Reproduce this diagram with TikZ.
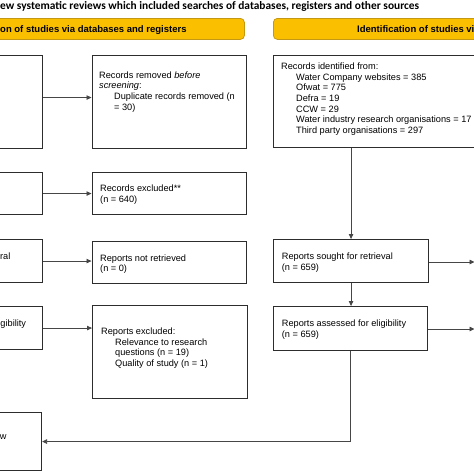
\documentclass[tikz,border=0pt]{standalone}
\usepackage{fontspec}
\setmainfont{Liberation Sans}
\newfontfamily\calib{Carlito}
\usetikzlibrary{arrows.meta}
\definecolor{hdr}{RGB}{250,192,0}
\definecolor{hdrline}{RGB}{196,152,20}
\definecolor{boxline}{RGB}{45,45,45}
\definecolor{arrline}{RGB}{70,70,70}
\begin{document}
\begin{tikzpicture}[x=1pt,y=-1pt,
  box/.style={draw=boxline,line width=1.1pt,inner sep=0pt,anchor=north west},
  txt/.style={inner sep=0pt,anchor=north west,font=\fontsize{9.2}{10.7}\selectfont,align=left},
  frag/.style={inner sep=0pt,anchor=base east,font=\fontsize{9.2}{10.7}\selectfont},
  hdrbox/.style={draw=hdrline,fill=hdr,line width=0.8pt,rounded corners=4pt,inner sep=0pt,anchor=north west},
  hdrtxt/.style={inner sep=0pt,anchor=base west,font=\fontsize{9.5}{11}\selectfont\bfseries},
  arr/.style={draw=arrline,line width=0.8pt,-{Triangle[length=5pt,width=4.5pt]}},
  ln/.style={draw=arrline,line width=0.8pt}]
\useasboundingbox (0,0) rectangle (474,474);
\clip (0,0) rectangle (474,474);
\fill[white] (0,0) rectangle (474,474);

% title
\node[inner sep=0pt,anchor=base west,font=\fontsize{11.4}{13}\selectfont\calib\bfseries] (T) at (0,9)
  {ew systematic reviews which included searches of databases, registers and other sources};

% headers
\node[hdrbox,minimum width=374,minimum height=21] (H1) at (-130,18) {};
\node[hdrtxt] (H1t) at (0,32) {on of studies via databases and registers};
\node[hdrbox,minimum width=330,minimum height=21] (H2) at (273,18) {};
\node[hdrtxt] (H2t) at (357,32) {Identification of studies vi};

% left column (cut)
\node[box,minimum width=102,minimum height=93] (L1) at (-60,55) {};
\node[box,minimum width=102,minimum height=42] (L2) at (-60,172) {};
\node[box,minimum width=102,minimum height=43] (L3) at (-60,239) {};
\node[box,minimum width=102,minimum height=43] (L4) at (-60,306) {};
\node[box,minimum width=101,minimum height=58] (L5) at (-60,412) {};
\node[frag] (L3t) at (10.5,259.3) {ral};
\node[frag,anchor=base west] (L4t) at (0.3,326.6) {gibility};
\node[frag] (L5t) at (6.8,439) {w};

% middle column
\node[box,minimum width=154.5,minimum height=93] (M1) at (91.5,55) {};
\node[txt] (M1t) at (99,71.4) {Records removed \textit{before}\\\textit{screening}:\\\hspace*{15pt}Duplicate records removed (n\\\hspace*{15pt}= 30)};
\node[box,minimum width=154.5,minimum height=42] (M2) at (91.5,172) {};
\node[txt] (M2t) at (100,184.9) {Records excluded**\\(n = 640)};
\node[box,minimum width=154.5,minimum height=42] (M3) at (91.5,241) {};
\node[txt] (M3t) at (100,254.3) {Reports not retrieved\\(n = 0)};
\node[box,minimum width=155,minimum height=93] (M4) at (92,305) {};
\node[txt] (M4t) at (101,327.6) {Reports excluded:\\\hspace*{14pt}Relevance to research\\\hspace*{14pt}questions (n = 19)\\\hspace*{14pt}Quality of study (n = 1)};

% right column
\node[box,minimum width=330,minimum height=92] (R1) at (273,55) {};
\node[txt] (R1t) at (281,62.6) {Records identified from:\\\hspace*{15pt}Water Company websites = 385\\\hspace*{15pt}Ofwat = 775\\\hspace*{15pt}Defra = 19\\\hspace*{15pt}CCW = 29\\\hspace*{15pt}Water industry research organisations = 17\\\hspace*{15pt}Third party organisations = 297};
\node[box,minimum width=155,minimum height=43] (R2) at (273,239) {};
\node[txt] (R2t) at (281.7,252.6) {Reports sought for retrieval\\(n = 659)};
\node[box,minimum width=154,minimum height=44] (R3) at (273,306) {};
\node[txt] (R3t) at (281.7,319.9) {Reports assessed for eligibility\\(n = 659)};

\coordinate (E1) at (474.5,262);
\coordinate (E2) at (474.5,329);

% connectors
\draw[arr] ([yshift=4.5pt]L1.east) -- ([yshift=4.5pt]M1.west);
\draw[arr] (L2.east) -- (L2.east -| M2.west);
\draw[arr] (L3.east) -- (L3.east -| M3.west);
\draw[arr] (L4.east) -- (L4.east -| M4.west);
\draw[arr] (R1.south -| R2.north) -- (R2.north);
\draw[arr] (R2.east |- E1) -- (E1);
\draw[arr] (R2.south) -- (R2.south |- R3.north);
\draw[arr] (R3.east |- E2) -- (E2);
\draw[arr] (R3.south) |- (L5.east);
\end{tikzpicture}
\end{document}
